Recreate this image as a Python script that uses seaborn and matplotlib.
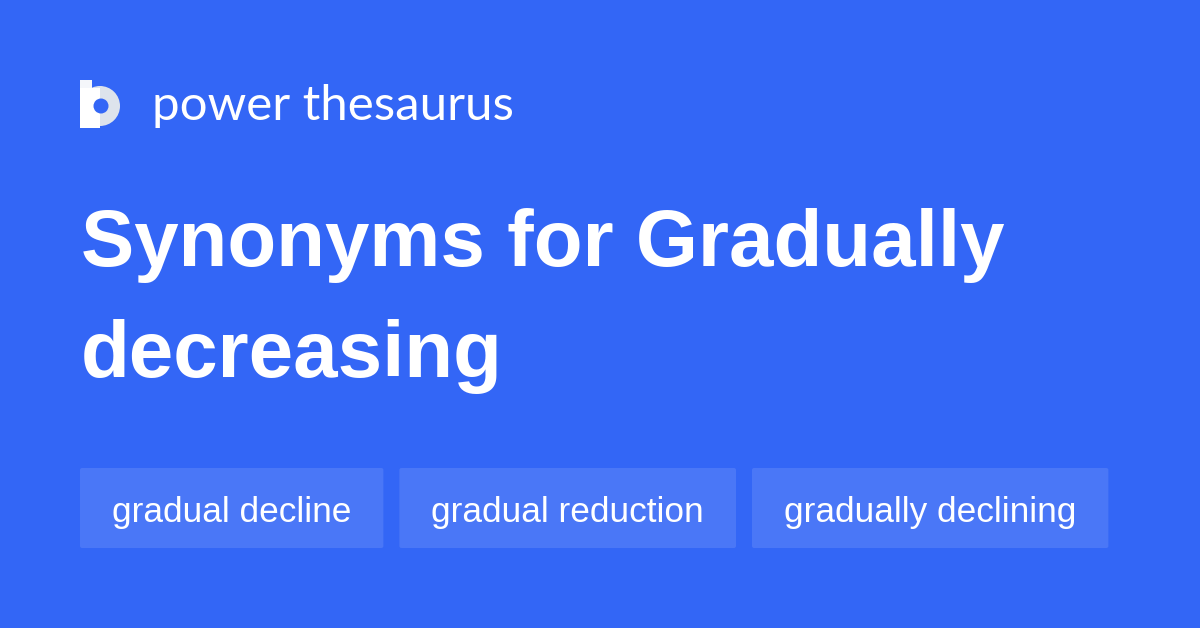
import matplotlib
matplotlib.use("Agg")
import matplotlib.pyplot as plt
import matplotlib.patches as mpatches
import seaborn as sns

# card content
brand = "power thesaurus"
title_lines = ["Synonyms for Gradually", "decreasing"]
synonyms = ["gradual decline", "gradual reduction", "gradually declining"]

bg_color = "#3366F6"
chip_color = "#4A77F7"

sns.set_theme(style="white")
plt.rcParams["font.family"] = ["Liberation Sans", "DejaVu Sans"]

W, H = 1200, 628
fig = plt.figure(figsize=(W / 100, H / 100), dpi=100, facecolor=bg_color)
ax = fig.add_axes([0, 0, 1, 1])
ax.set_xlim(0, W)
ax.set_ylim(H, 0)
ax.set_facecolor(bg_color)
ax.axis("off")

# logo: a stylised "b"
ax.add_patch(mpatches.Circle((100, 106), 20, color="#DDE3EC", lw=0))
ax.add_patch(mpatches.Rectangle((80, 80), 12, 48, color="#F4F6FA", lw=0))
ax.add_patch(mpatches.Rectangle((80, 88), 20, 40, color="#FFFFFF", lw=0))
ax.add_patch(mpatches.Circle((101, 106), 7.5, color=bg_color, lw=0))

ax.text(152, 120, brand, fontsize=35.5, color="white", family=["Lato", "DejaVu Sans"],
        va="baseline", ha="left")

# title
for i, line in enumerate(title_lines):
    ax.text(81, 266 + i * 111, line, fontsize=57.5, fontweight="bold", color="white",
            va="baseline", ha="left")

# synonym chips, width follows the text
fig.canvas.draw()
renderer = fig.canvas.get_renderer()
x = 80
pad = 32
for word in synonyms:
    t = ax.text(x + pad, 522, word, fontsize=25.4, color="white", va="baseline", ha="left",
                zorder=3)
    bb = t.get_window_extent(renderer=renderer)
    w = bb.width
    ax.add_patch(mpatches.FancyBboxPatch((x, 468), w + 2 * pad, 80,
                                         boxstyle="round,pad=0,rounding_size=2",
                                         color=chip_color, lw=0, zorder=2))
    x += w + 2 * pad + 16

fig.savefig("out.png", dpi=100, facecolor=bg_color)
